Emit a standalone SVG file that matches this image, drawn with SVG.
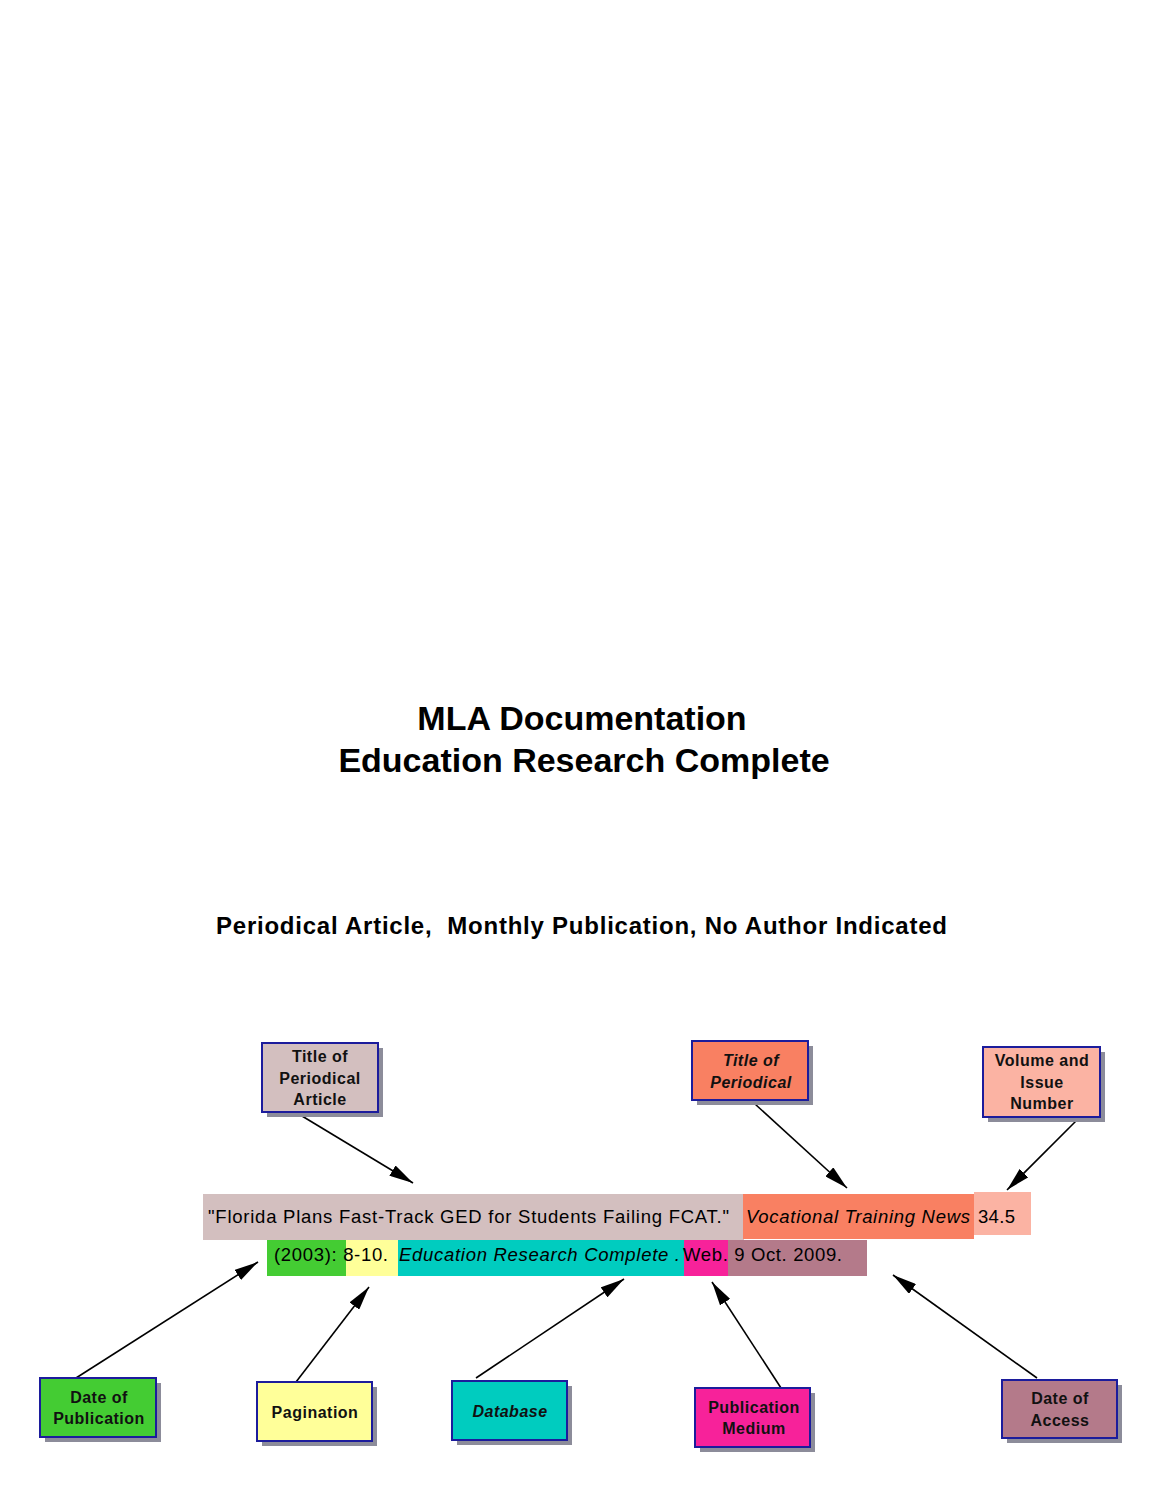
<svg xmlns="http://www.w3.org/2000/svg" width="1159" height="1500" viewBox="0 0 1159 1500">
<defs>
<style>
.t{font-family:"Liberation Sans",Arial,sans-serif;fill:#000}
.h{font-weight:bold;font-size:34px;text-anchor:middle}
.s{font-weight:bold;font-size:24px}
.c{font-size:18.5px}
.i{font-style:italic}
.lbl{font-family:"Liberation Sans",Arial,sans-serif;font-weight:bold;font-size:16px;text-anchor:middle;fill:#111;letter-spacing:0.5px}
.box{stroke:#1c1c9c;stroke-width:2}
.sh{fill:#8c8c9a}
.con{stroke:#000;stroke-width:1.6;fill:none;marker-end:url(#ah)}
</style>
<marker id="ah" markerUnits="userSpaceOnUse" markerWidth="26" markerHeight="12" refX="24" refY="6" orient="auto">
<path d="M0,0 L24,6 L0,12 Z" fill="#000"/>
</marker>
</defs>
<rect width="1159" height="1500" fill="#fff"/>

<g id="title">
<text class="t h" x="582" y="730">MLA Documentation</text>
<text class="t h" x="584" y="772">Education Research Complete</text>
<text class="t s" x="216" y="934" textLength="731" lengthAdjust="spacing" xml:space="preserve">Periodical Article,  Monthly Publication, No Author Indicated</text>
</g>

<g id="citation">
<rect x="203" y="1194" width="541" height="46" fill="#d3bfbf"/>
<rect x="743" y="1194" width="231" height="45" fill="#f98062"/>
<rect x="974" y="1192" width="57" height="43" fill="#fbb3a3"/>
<rect x="267" y="1240" width="80" height="36" fill="#44cc33"/>
<rect x="346" y="1240" width="53" height="36" fill="#ffff99"/>
<rect x="398" y="1240" width="287" height="36" fill="#00ccbf"/>
<rect x="684" y="1240" width="45" height="36" fill="#f7229a"/>
<rect x="728" y="1240" width="139" height="36" fill="#b47a8a"/>
<text class="t c" x="208" y="1223" textLength="521" lengthAdjust="spacing">"Florida Plans Fast-Track GED for Students Failing FCAT."</text>
<text class="t c i" x="746" y="1223" textLength="224" lengthAdjust="spacing">Vocational Training News</text>
<text class="t c" x="978" y="1223" textLength="37" lengthAdjust="spacing">34.5</text>
<text class="t c" x="274" y="1261" textLength="114" lengthAdjust="spacing">(2003): 8-10.</text>
<text class="t c i" x="399" y="1261" textLength="281" lengthAdjust="spacing">Education Research Complete .</text>
<text class="t c" x="683" y="1261" textLength="159" lengthAdjust="spacing">Web. 9 Oct. 2009.</text>
</g>

<g id="connectors">
<line class="con" x1="297" y1="1113" x2="413" y2="1183"/>
<line class="con" x1="755" y1="1104" x2="847" y2="1188"/>
<line class="con" x1="1078" y1="1119" x2="1007" y2="1190"/>
<line class="con" x1="76" y1="1378" x2="258" y2="1262"/>
<line class="con" x1="296" y1="1382" x2="369" y2="1287"/>
<line class="con" x1="476" y1="1378" x2="624" y2="1279"/>
<line class="con" x1="781" y1="1388" x2="712" y2="1282"/>
<line class="con" x1="1037" y1="1378" x2="893" y2="1275"/>
</g>

<g id="n-article">
<rect class="sh" x="267" y="1048" width="116" height="69"/>
<rect class="box" x="262" y="1043" width="116" height="69" fill="#d3bfbf"/>
<text class="lbl" x="320" y="1062">Title of</text>
<text class="lbl" x="320" y="1084">Periodical</text>
<text class="lbl" x="320" y="1105">Article</text>
</g>

<g id="n-periodical">
<rect class="sh" x="697" y="1046" width="116" height="59"/>
<rect class="box" x="692" y="1041" width="116" height="59" fill="#f98062"/>
<text class="lbl i" x="751" y="1066">Title of</text>
<text class="lbl i" x="751" y="1088">Periodical</text>
</g>

<g id="n-volume">
<rect class="sh" x="988" y="1052" width="117" height="70"/>
<rect class="box" x="983" y="1047" width="117" height="70" fill="#fbb3a3"/>
<text class="lbl" x="1042" y="1066">Volume and</text>
<text class="lbl" x="1042" y="1088">Issue</text>
<text class="lbl" x="1042" y="1109">Number</text>
</g>

<g id="n-date-pub">
<rect class="sh" x="45" y="1383" width="116" height="59"/>
<rect class="box" x="40" y="1378" width="116" height="59" fill="#44cc33"/>
<text class="lbl" x="99" y="1403">Date of</text>
<text class="lbl" x="99" y="1424">Publication</text>
</g>

<g id="n-pagination">
<rect class="sh" x="262" y="1387" width="115" height="59"/>
<rect class="box" x="257" y="1382" width="115" height="59" fill="#ffff99"/>
<text class="lbl" x="315" y="1418">Pagination</text>
</g>

<g id="n-database">
<rect class="sh" x="457" y="1386" width="115" height="59"/>
<rect class="box" x="452" y="1381" width="115" height="59" fill="#00ccbf"/>
<text class="lbl i" x="510" y="1417">Database</text>
</g>

<g id="n-medium">
<rect class="sh" x="700" y="1393" width="115" height="59"/>
<rect class="box" x="695" y="1388" width="115" height="59" fill="#f7229a"/>
<text class="lbl" x="754" y="1413">Publication</text>
<text class="lbl" x="754" y="1434">Medium</text>
</g>

<g id="n-access">
<rect class="sh" x="1007" y="1385" width="115" height="58"/>
<rect class="box" x="1002" y="1380" width="115" height="58" fill="#b47a8a"/>
<text class="lbl" x="1060" y="1404">Date of</text>
<text class="lbl" x="1060" y="1426">Access</text>
</g>
</svg>
